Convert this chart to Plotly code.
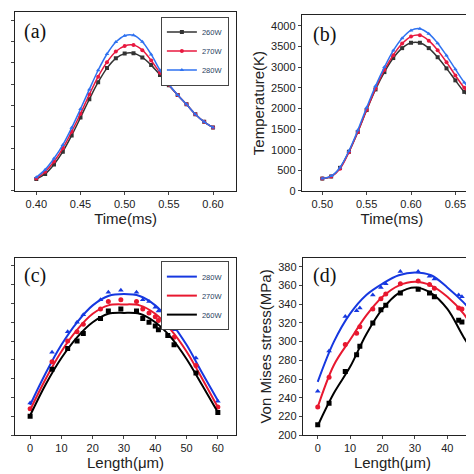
import plotly.graph_objects as go

# (a)
t_a = [0.40,0.41,0.42,0.43,0.44,0.45,0.46,0.47,0.48,0.49,0.50,0.51,0.52,0.53,0.54,0.55,0.56,0.57,0.58,0.59,0.60]
a_260 = [280,400,620,920,1300,1720,2150,2550,2880,3110,3220,3230,3130,2950,2720,2480,2250,2030,1800,1620,1490]
a_270 = [290,450,690,1000,1390,1810,2260,2680,3020,3270,3400,3420,3300,3060,2770,2490,2250,2030,1800,1620,1490]
a_280 = [320,500,760,1080,1480,1920,2380,2830,3210,3490,3640,3650,3500,3200,2830,2500,2250,2030,1800,1620,1490]
# (b)
t_b = [0.50,0.51,0.52,0.53,0.54,0.55,0.56,0.57,0.58,0.59,0.60,0.61,0.62,0.63,0.64,0.65,0.66,0.67,0.68]
b_260 = [300,350,560,950,1430,1960,2460,2880,3220,3460,3590,3590,3460,3240,2970,2680,2400,2200,2050]
b_270 = [300,350,540,940,1430,1970,2480,2930,3290,3570,3740,3770,3640,3410,3120,2800,2500,2260,2100]
b_280 = [300,360,570,970,1470,2020,2540,3000,3400,3700,3890,3930,3810,3580,3280,2950,2630,2360,2150]
# (c) fitted lines and points
c_fx = [0,5,10,15,20,25,30,35,40,45,50,55,60]
c_f280 = [1.6,3.3,4.8,6.0,6.9,7.4,7.5,7.4,6.9,6.0,4.8,3.3,1.84]
c_f270 = [1.34,3.0,4.45,5.6,6.45,6.9,6.95,6.9,6.45,5.6,4.45,3.0,1.48]
c_f260 = [1.04,2.7,4.1,5.2,6.0,6.45,6.5,6.45,6.0,5.2,4.05,2.65,1.21]
c_px = [0,7,12,15,17,22.5,25,29,34,36,38,40,41,44,46,53,60]
c_p260 = [1.0,3.5,4.6,5.0,5.4,6.2,6.6,6.7,6.6,6.2,6.0,5.8,5.6,5.3,4.8,3.3,1.2]
c_p270 = [1.4,3.9,5.0,5.5,5.9,6.7,7.1,7.2,7.1,6.7,6.5,6.3,6.1,5.8,5.2,3.7,1.5]
c_p280 = [1.7,4.4,5.5,6.0,6.4,7.2,7.6,7.7,7.6,7.2,7.1,6.8,6.6,6.2,5.6,4.1,1.8]
# (d)
d_fx = [0,5,10,15,20,25,30,35,40,45,50,52]
d_f280 = [257,300,330,350,362,371,374,371,358,342,322,310]
d_f270 = [230,275,302,328,348,360,364,360,348,330,302,290]
d_f260 = [210,245,273,308,335,352,358,352,335,305,278,268]
d_px = [0,3.5,8.5,12,13,17,19.5,21,25.5,31,34.5,36,43.5,44.5,52]
d_p280 = [247,290,327,333,336,350,358,362,375,375,370,367,350,348,318]
d_p270 = [230,262,297,309,316,335,346,351,362,365,361,357,336,335,292]
d_p260 = [211,234,268,286,295,320,334,339,352,356,352,348,323,321,262]

BLK, RED, BLU = "#333333", "#e8183f", "#2f72f0"
LB, LR, LK = "#1638e0", "#e8182f", "#000000"
fig = go.Figure()

def ln(x, y, c, sym, name, xa, ya, legend=None, show=False):
    fig.add_trace(go.Scatter(x=x, y=y, mode="lines+markers", line=dict(color=c, width=1.5, shape="spline"),
        marker=dict(symbol=sym, size=4, color=c), name=name, xaxis=xa, yaxis=ya,
        showlegend=show, legend=legend))

ln(t_a, a_260, BLK, "square", "260W", "x", "y", "legend", True)
ln(t_a, a_270, RED, "circle", "270W", "x", "y", "legend", True)
ln(t_a, a_280, BLU, "triangle-up", "280W", "x", "y", "legend", True)
ln(t_b, b_260, BLK, "square", "260W", "x2", "y2")
ln(t_b, b_270, RED, "circle", "270W", "x2", "y2")
ln(t_b, b_280, BLU, "triangle-up", "280W", "x2", "y2")

def fit(fx, fy, px, py, c, sym, name, xa, ya, legend=None, show=False):
    fig.add_trace(go.Scatter(x=px, y=py, mode="markers", marker=dict(symbol=sym, size=5, color=c),
        xaxis=xa, yaxis=ya, showlegend=False))
    fig.add_trace(go.Scatter(x=fx, y=fy, mode="lines", line=dict(color=c, width=2, shape="spline"),
        name=name, xaxis=xa, yaxis=ya, showlegend=show, legend=legend))

fit(c_fx, c_f280, c_px, c_p280, LB, "triangle-up", "280W", "x3", "y3", "legend2", True)
fit(c_fx, c_f270, c_px, c_p270, LR, "circle", "270W", "x3", "y3", "legend2", True)
fit(c_fx, c_f260, c_px, c_p260, LK, "square", "260W", "x3", "y3", "legend2", True)
fit(d_fx, d_f280, d_px, d_p280, LB, "triangle-up", "280W", "x4", "y4")
fit(d_fx, d_f270, d_px, d_p270, LR, "circle", "270W", "x4", "y4")
fit(d_fx, d_f260, d_px, d_p260, LK, "square", "260W", "x4", "y4")

ax = dict(showline=True, mirror=True, linecolor="#222", linewidth=1.2, ticks="outside", ticklen=3,
          showgrid=False, zeroline=False, tickfont=dict(size=11, color="#222"), automargin=False)
tf = dict(size=15, color="#222")
fig.update_layout(
    width=474, height=474, margin=dict(l=0, r=0, t=0, b=0), paper_bgcolor="white", plot_bgcolor="white",
    font=dict(family="Liberation Sans, Arial"),
    xaxis=dict(ax, domain=[0.015, 0.481], range=[0.376, 0.626], tickvals=[0.40,0.45,0.50,0.55,0.60],
               tickformat=".2f", title=dict(text="Time(ms)", font=tf, standoff=4), anchor="y"),
    yaxis=dict(ax, domain=[0.614, 0.992], range=[0, 4200], dtick=500, showticklabels=False, anchor="x"),
    xaxis2=dict(ax, domain=[0.620, 1.0], range=[0.477, 0.680], tickvals=[0.50,0.55,0.60,0.65],
                tickformat=".2f", title=dict(text="Time(ms)", font=tf, standoff=4), anchor="y2"),
    yaxis2=dict(ax, domain=[0.614, 0.985], range=[0, 4260], dtick=500,
                title=dict(text="Temperature(K)", font=tf, standoff=2), anchor="x2"),
    xaxis3=dict(ax, domain=[0.015, 0.481], range=[-4.8, 65.8], dtick=10,
                title=dict(text="Length(μm)", font=tf, standoff=4), anchor="y3"),
    yaxis3=dict(ax, domain=[0.099, 0.473], range=[0, 9.43], dtick=1, showticklabels=False, anchor="x3"),
    xaxis4=dict(ax, domain=[0.622, 1.0], range=[-4.6, 50.7], dtick=10,
                title=dict(text="Length(μm)", font=tf, standoff=4), anchor="y4"),
    yaxis4=dict(ax, domain=[0.099, 0.473], range=[200, 389.7], dtick=20,
                title=dict(text="Von Mises stress(MPa)", font=tf, standoff=2), anchor="x4"),
    legend=dict(x=0.466, y=0.982, xanchor="right", yanchor="top", bordercolor="#444", borderwidth=1,
                font=dict(size=7.5), itemwidth=30, tracegroupgap=0, bgcolor="white"),
    legend2=dict(x=0.466, y=0.466, xanchor="right", yanchor="top", bordercolor="#444", borderwidth=1,
                 font=dict(size=7.5), itemwidth=30, tracegroupgap=0, bgcolor="white"),
)
for xr, yr, txt in [(0.03, 0.95, "(a)"), (0.64, 0.945, "(b)"), (0.03, 0.435, "(c)"), (0.64, 0.435, "(d)")]:
    fig.add_annotation(x=xr, y=yr, xref="paper", yref="paper", text=txt, showarrow=False,
                       xanchor="left", yanchor="middle", font=dict(family="Liberation Serif", size=20, color="#111"))
fig.write_html("out.html")
